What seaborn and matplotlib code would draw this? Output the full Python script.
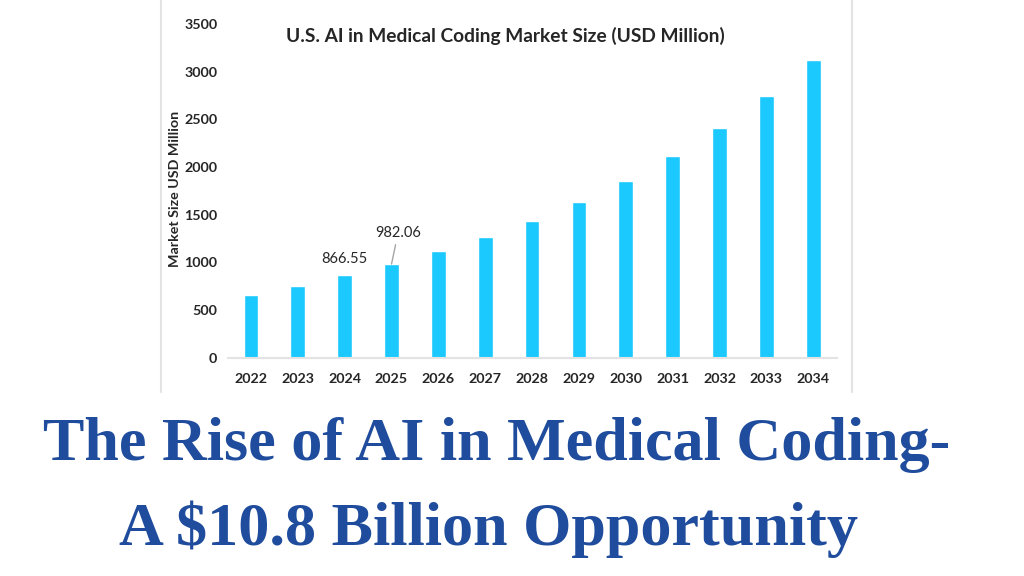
import matplotlib
matplotlib.use("Agg")
import matplotlib.pyplot as plt
from matplotlib.lines import Line2D
import pandas as pd
import seaborn as sns

years = ["2022", "2023", "2024", "2025", "2026", "2027", "2028",
         "2029", "2030", "2031", "2032", "2033", "2034"]
market_size = [654, 751, 866.55, 982.06, 1115, 1265, 1436,
               1632, 1857, 2113, 2407, 2740, 3127]
y_ticks = [0, 500, 1000, 1500, 2000, 2500, 3000, 3500]

chart_title = "U.S. AI in Medical Coding Market Size (USD Million)"
y_label = "Market Size USD Million"
headline = ["The Rise of AI in Medical Coding-", "A $10.8 Billion Opportunity"]

BAR_COLOR = "#1BC9FF"
TEXT_COLOR = "#262626"
RULE_COLOR = "#E3E3E3"
HEAD_COLOR = "#1F4C9C"

sns.set_theme(style="white")
plt.rcParams["font.family"] = ["Lato", "DejaVu Sans"]

W, H = 1024, 576
fig = plt.figure(figsize=(W / 100, H / 100), dpi=100, facecolor="white")
ax = fig.add_axes([227.5 / W, 1 - 357.7 / H, 609.2 / W, 333.7 / H])

df = pd.DataFrame({"year": years, "size": market_size})
sns.barplot(data=df, x="year", y="size", color=BAR_COLOR, saturation=1,
            width=0.313, ax=ax)

ax.set_xlim(-0.5, 12.5)
ax.set_ylim(0, 3500)
ax.set_yticks(y_ticks)
ax.set_xlabel("")
ax.set_ylabel(y_label, fontsize=10.3, fontweight="bold", color=TEXT_COLOR)
ax.yaxis.set_label_coords(-0.0763, 0.507)
ax.tick_params(axis="both", length=0, labelcolor=TEXT_COLOR, labelsize=10.3)
ax.tick_params(axis="x", pad=11)
ax.tick_params(axis="y", pad=7.3)
for lbl in ax.get_xticklabels() + ax.get_yticklabels():
    lbl.set_fontweight("bold")

sns.despine(ax=ax, left=True)
ax.spines["bottom"].set_color(RULE_COLOR)
ax.spines["bottom"].set_linewidth(1.5)

fig.text(505.5 / W, 1 - 36 / H, chart_title, ha="center", va="center",
         fontsize=13.8, fontweight="bold", color=TEXT_COLOR)

# data labels on the two highlighted years
ax.annotate(f"{market_size[2]:.2f}", xy=(2, market_size[2]), xytext=(0, 9),
            textcoords="offset pixels", ha="center", va="bottom",
            fontsize=10.5, color=TEXT_COLOR)
ax.annotate(f"{market_size[3]:.2f}", xy=(3, market_size[3]), xytext=(6.5, 24),
            textcoords="offset pixels", ha="center", va="bottom",
            fontsize=10.5, color=TEXT_COLOR,
            arrowprops=dict(arrowstyle="-", color="#A6A6A6", lw=1,
                            shrinkA=1, shrinkB=0))

# panel edges around the chart image
for px in (161, 852):
    fig.add_artist(Line2D([px / W, px / W], [1 - 392 / H, 1], color=RULE_COLOR, lw=1.5))

for text, cx, cy in zip(headline, (496.5, 488.5), (445, 529)):
    fig.text(cx / W, 1 - cy / H, text, ha="center", va="center",
             fontsize=44.7, fontweight="bold", color=HEAD_COLOR,
             family=["Liberation Serif", "DejaVu Serif"])

fig.savefig("out.png", dpi=100)
